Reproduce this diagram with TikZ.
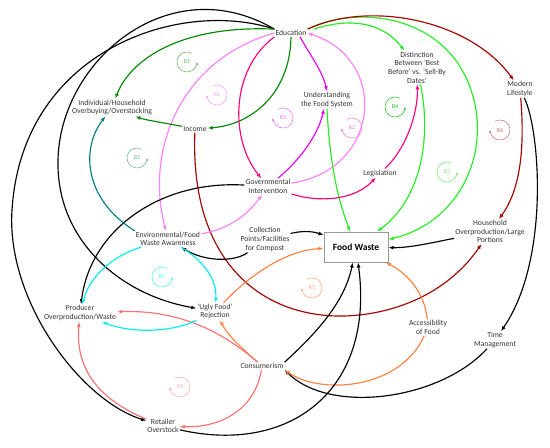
\documentclass[tikz,border=0pt]{standalone}
\usepackage{fontspec}
\setmainfont{Carlito}
\usetikzlibrary{arrows.meta}
\definecolor{txt}{HTML}{353535}
\definecolor{dgreen}{HTML}{008A00}
\definecolor{lpink}{HTML}{FF80FF}
\definecolor{hpink}{HTML}{FF0080}
\definecolor{magen}{HTML}{EE00EE}
\definecolor{bgreen}{HTML}{22EE22}
\definecolor{dred}{HTML}{A50000}
\definecolor{teal2}{HTML}{008080}
\definecolor{cyan2}{HTML}{00EEEE}
\definecolor{orng}{HTML}{FF8040}
\definecolor{salm}{HTML}{FF7070}
\newcommand{\cldB}[4]{\begin{scope}[shift={(#1,#2)},yscale=-1]
\draw[#4,line width=0.6pt,-{Latex[length=2.5pt,width=2.2pt]}] (60:10) arc[start angle=60,end angle=360,radius=10];
\node[text=#4,font=\fontsize{6}{6}\selectfont,inner sep=0pt] at (0,0) {#3};\end{scope}}
\newcommand{\cldR}[4]{\begin{scope}[shift={(#1,#2)},yscale=-1]
\draw[#4,line width=0.6pt,-{Latex[length=2.5pt,width=2.2pt]}] (120:10) arc[start angle=120,end angle=-180,radius=10];
\node[text=#4,font=\fontsize{6}{6}\selectfont,inner sep=0pt] at (0,0) {#3};\end{scope}}
\begin{document}
\begin{tikzpicture}[x=1pt,y=-1pt,
  lbl/.style={font=\fontsize{7.7}{8.6}\selectfont, text=txt, align=center, inner sep=1pt},
  lnk/.style={line width=1.15pt, -{Latex[length=5pt,width=4pt]}},
  fwbox/.style={draw=black!40, line width=1pt, minimum width=64pt, minimum height=30pt, font=\fontsize{9.5}{10}\selectfont\bfseries, text=black, fill=white}
]
\useasboundingbox (0,0) rectangle (550,448);
\fill[white] (0,0) rectangle (550,448);

% nodes
\node[lbl] (edu) at (291,33) {Education};
\node[lbl] (ind) at (112,107.5) {Individual/Household\\Overbuying/Overstocking};
\node[lbl] (inc) at (195,129) {Income};
\node[lbl] (und) at (327,100) {Understanding\\the Food System};
\node[lbl] (dist) at (417,67.5) {Distinction\\Between 'Best\\Before' vs. 'Sell-By\\Dates'};
\node[lbl] (mod) at (520,89) {Modern\\Lifestyle};
\node[lbl] (gov) at (268,186.5) {Governmental\\Intervention};
\node[lbl] (leg) at (380,173) {Legislation};
\node[lbl] (env) at (168,239) {Environmental/Food\\Waste Awareness};
\node[lbl] (col) at (265,239.5) {Collection\\Points/Facilities\\for Compost};
\node[lbl] (hh) at (490,231.5) {Household\\Overproduction/Large\\Portions};
\node[lbl] (prod) at (80,313) {Producer\\Overproduction/Waste};
\node[lbl] (ugly) at (215,311.5) {'Ugly Food'\\Rejection};
\node[lbl] (acc) at (428,327.5) {Accessibility\\of Food};
\node[lbl] (time) at (495,340) {Time\\Management};
\node[lbl] (cons) at (262,366) {Consumerism};
\node[lbl] (ret) at (163,426) {Retailer\\Overstock};
\node[fwbox] (fw) at (356,247) {Food Waste};

% loop markers
\cldB{187}{62}{B1}{dgreen!60!white}
\cldR{217}{95}{R1}{lpink!80!white}
\cldR{283}{118}{R3}{magen!55!white}
\cldR{352}{128}{R2}{hpink!50!white}
\cldB{395}{107}{B4}{bgreen!85!black}
\cldR{500}{130}{R6}{dred!55!white}
\cldB{137}{158}{B2}{teal2!60!white}
\cldB{447}{172}{B3}{bgreen!65!white}
\cldB{162}{277}{B5}{cyan2!70!white}
\cldR{312}{288}{R5}{orng!70!white}
\cldR{180}{387}{R4}{salm!60!white}

% Education links
\draw[lnk,black] (edu.north west) .. controls (180,-2) and (22,50) .. (12,210) .. controls (6,300) and (80,400) .. (ret);
\draw[lnk,black] (edu.north west) .. controls (170,-32) and (60,60) .. (58,160) .. controls (56,240) and (120,295) .. (ugly);
\draw[lnk,dgreen] (edu.north west) .. controls (180,25) and (130,60) .. (ind);
\draw[lnk,dgreen] (edu.south) .. controls (290,95) and (250,125) .. (inc);
\draw[lnk,lpink] (edu.west) .. controls (180,60) and (145,150) .. (env);
\draw[lnk,hpink] (edu.south west) .. controls (230,70) and (230,140) .. (gov);
\draw[lnk,magen] ([xshift=9pt]edu.south) .. controls (310,55) and (322,70) .. (und.north);
\draw[lnk,bgreen] ([xshift=6pt]edu.north east) .. controls (355,16) and (385,25) .. (dist);
\draw[lnk,bgreen] (edu.north east) .. controls (360,3) and (460,15) .. (476,110) .. controls (485,170) and (450,225) .. (fw);
\draw[lnk,dred] (edu.north east) .. controls (370,0) and (470,20) .. (mod);
\draw[lnk,lpink] (gov) .. controls (380,170) and (390,60) .. (edu.east);

% Middle links
\draw[lnk,bgreen] (und.south) .. controls (330,170) and (340,205) .. (fw);
\draw[lnk,bgreen] (dist) .. controls (432,140) and (420,200) .. (fw);
\draw[lnk,magen] (gov) .. controls (300,160) and (318,135) .. ([xshift=-3pt]und.south);
\draw[lnk,hpink] (gov) .. controls (320,203) and (355,200) .. (leg);
\draw[lnk,hpink] (leg) .. controls (405,150) and (418,115) .. (dist);
\draw[lnk,black] (gov) .. controls (160,180) and (90,230) .. (prod);
\draw[lnk,teal2] (env.north west) .. controls (85,200) and (80,150) .. (ind);
\draw[lnk,dgreen] (inc) .. controls (160,122) and (145,120) .. (ind);
\draw[lnk,dred] (inc) .. controls (190,260) and (260,318) .. (345,316) .. controls (400,314) and (450,290) .. (hh);
\draw[lnk,dred] (mod) .. controls (525,150) and (520,190) .. (hh);
\draw[lnk,black] (mod) .. controls (540,130) and (550,260) .. (time);
\draw[lnk,black] (time) .. controls (440,400) and (330,415) .. (cons.south east);
\draw[lnk,orng] (acc) .. controls (400,390) and (320,395) .. (cons.south east);
\draw[lnk,orng] (acc) .. controls (425,295) and (410,275) .. (fw);
\draw[lnk,orng] (cons) .. controls (238,345) and (228,335) .. (ugly);
\draw[lnk,orng] (ugly) .. controls (255,270) and (290,250) .. (fw);
\draw[lnk,salm] (cons) .. controls (215,325) and (170,310) .. (prod);
\draw[lnk,salm] (cons) .. controls (255,410) and (220,428) .. (ret);
\draw[lnk,salm] (ret) .. controls (100,400) and (75,370) .. (prod);
\draw[lnk,black] (ret) .. controls (290,455) and (375,390) .. (fw);
\draw[lnk,black] (cons.north east) .. controls (320,330) and (345,300) .. (fw);
\draw[lnk,black] (col) .. controls (305,230) and (315,232) .. (fw);
\draw[lnk,black] (col) .. controls (235,262) and (205,262) .. (env);
\draw[lnk,black] (hh) .. controls (435,242) and (410,248) .. (fw);
\draw[lnk,cyan2] (env) .. controls (115,255) and (90,275) .. (prod);
\draw[lnk,cyan2] (env) .. controls (205,262) and (217,280) .. (ugly);
\draw[lnk,cyan2] (ugly) .. controls (170,333) and (130,333) .. (prod);
\draw[lnk,lpink] (env) .. controls (225,230) and (245,218) .. (gov);
\end{tikzpicture}
\end{document}
